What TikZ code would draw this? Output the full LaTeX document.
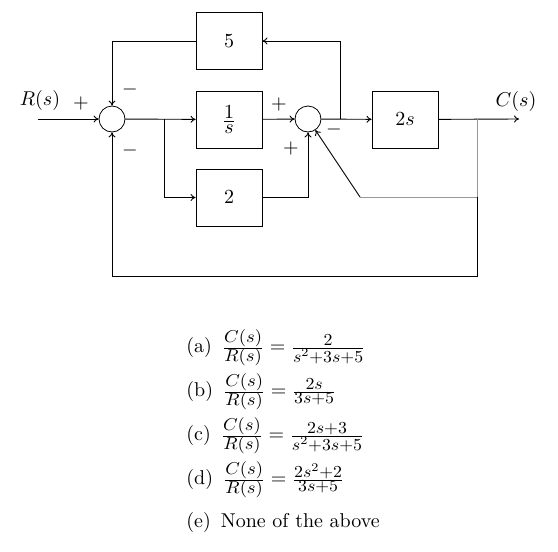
\documentclass[tikz,border=0pt]{standalone}
\usepackage{graphicx}
\usetikzlibrary{arrows.meta}
\newcommand{\lhsfrac}{\scalebox{0.93}[0.86]{$\frac{\textstyle C(s)}{\textstyle R(s)}$}}
\newcommand{\rhsfrac}[2]{\scalebox{0.89}[0.84]{$\frac{\textstyle #1}{\textstyle #2}$}}
\begin{document}
\begin{tikzpicture}[x=0.5pt,y=-0.5pt,
  blk/.style={draw,minimum width=33pt,minimum height=28.5pt,inner sep=0pt},
  sumc/.style={draw,circle,minimum size=13pt,inner sep=0pt},
  lbl/.style={inner sep=0pt},
  ln/.style={line width=0.45pt},
  arr/.style={ln,-{To[length=2.5pt,width=3.5pt]}},
  fb/.style={ln,black!40}]
\useasboundingbox (0,0) rectangle (558,552);
% blocks
\node[blk] (b5) at (229,41) {$5$};
\node[blk] (b1) at (229,119.5) {$\frac{\textstyle 1}{\textstyle s}$};
\node[blk] (b2) at (229,197.5) {$2$};
\node[blk] (b3) at (405,119.5) {$2s$};
\node[sumc] (s1) at (112,119) {};
\node[sumc] (s2) at (308,119) {};
% coordinates
\coordinate (in) at (38,119);
\coordinate (out) at (519,119);
\coordinate (p1) at (164,119);
\coordinate (q2) at (308,197.5);
\coordinate (p2) at (340,119);
\coordinate (t5) at (112,41);
\coordinate (p3) at (477,119);
\coordinate (g1) at (477,197);
\coordinate (g2) at (360,197);
\coordinate (bb) at (477,276);
\coordinate (bl) at (112,276);
% connectors
\draw[arr] (in) -- (s1);
\draw[arr] (s1) -- (b1);
\draw[arr] (p1) |- (b2);
\draw[arr] (b1) -- (s2);
\draw[arr] (b2.east) -- (q2) -- (s2);
\draw[arr] (s2) -- (b3);
\draw[arr] (p2) |- (b5);
\draw[arr] (b5.west) -- (t5) -- (s1);
\draw[arr] (b3) -- (out);
\draw[fb] (p3) -- (g1) -- (g2);
\draw[arr] (g2) -- (s2);
\draw[ln] (g1) -- (bb) -- (bl);
\draw[arr] (bl) -- (s1);
% labels
\node[lbl] (lr) at (40,100) {$R(s)$};
\node[lbl] (lc) at (516,101) {$C(s)$};
\node[lbl] (pa) at (81,103) {$+$};
\node[lbl] (ma) at (130,89) {$-$};
\node[lbl] (mb) at (130,150) {$-$};
\node[lbl] (pc) at (279,104) {$+$};
\node[lbl] (pd) at (291,148) {$+$};
\node[lbl] (mc) at (334,129) {$-$};
% answers
\node[lbl,anchor=west] (ea) at (186,348) {(a)\enspace\lhsfrac$\;=\;$\rhsfrac{2}{s^2{+}3s{+}5}};
\node[lbl,anchor=west] (eb) at (186,392) {(b)\enspace\lhsfrac$\;=\;$\rhsfrac{2s}{3s{+}5}};
\node[lbl,anchor=west] (ec) at (186,436) {(c)\enspace\lhsfrac$\;=\;$\rhsfrac{2s{+}3}{s^2{+}3s{+}5}};
\node[lbl,anchor=west] (ed) at (186,480) {(d)\enspace\lhsfrac$\;=\;$\rhsfrac{2s^2{+}2}{3s{+}5}};
\node[lbl,anchor=base west] (ee) at (186,527) {(e)\enspace None of the above};
\end{tikzpicture}
\end{document}
